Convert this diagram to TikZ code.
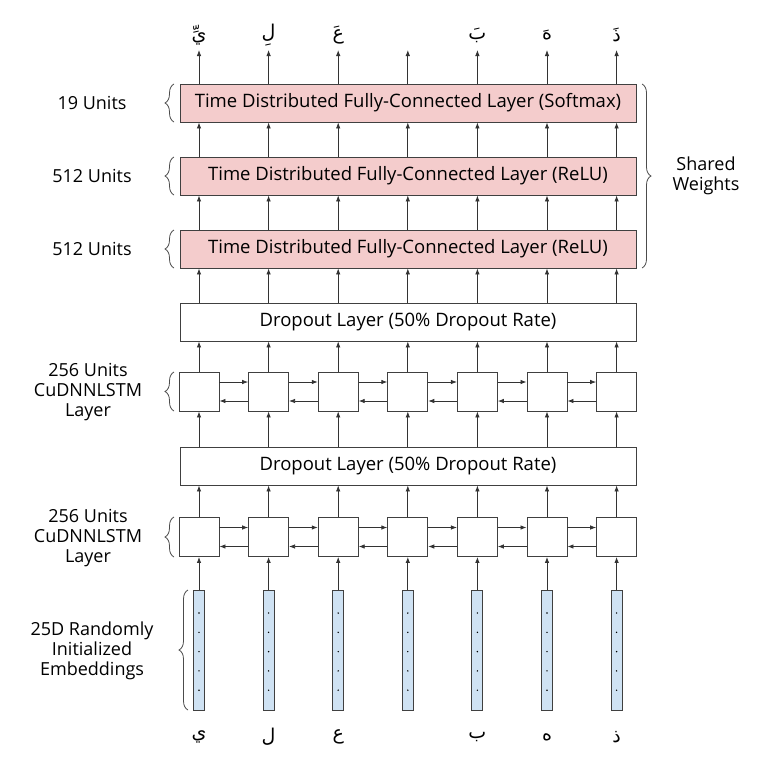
\documentclass[tikz,border=0pt]{standalone}
\usepackage{fontspec}
\setmainfont{Open Sans}
\newfontfamily\arab[Script=Arabic]{DejaVu Sans}
\usetikzlibrary{decorations.pathreplacing,arrows.meta}
\definecolor{pinkf}{HTML}{F4CCCC}
\definecolor{bluef}{HTML}{CFE2F3}
\begin{document}
\begin{tikzpicture}[x=1pt,y=-1pt,
 layer/.style={draw=black!75,line width=0.9pt,minimum width=456pt,minimum height=38pt,inner sep=0pt,font=\fontsize{18.5}{21}\selectfont},
 fc/.style={layer,fill=pinkf},
 cell/.style={draw=black!75,line width=0.9pt,minimum width=40pt,minimum height=39pt,inner sep=0pt,fill=white},
 emb/.style={draw=black!75,line width=0.9pt,fill=bluef,minimum width=11pt,minimum height=120pt,inner sep=0pt},
 arr/.style={-{Latex[length=6pt,width=4.5pt]},line width=0.8pt,black!80},
 br/.style={decorate,decoration={brace,amplitude=9pt},line width=0.8pt,black!70},
 lab/.style={font=\fontsize{18}{20}\selectfont,align=center},
 ar/.style={font=\arab\fontsize{19}{21}\selectfont}]
\useasboundingbox (0,0) rectangle (758,763);
\node[fc] (s) at (408,103) {Time Distributed Fully-Connected Layer (Softmax)};
\node[fc] (r1) at (408,176) {Time Distributed Fully-Connected Layer (ReLU)};
\node[fc] (r2) at (408,249) {Time Distributed Fully-Connected Layer (ReLU)};
\node[layer] (d1) at (408,322) {Dropout Layer (50\% Dropout Rate)};
\node[layer] (d2) at (408,466) {Dropout Layer (50\% Dropout Rate)};
\foreach \i in {1,...,7}{
  \pgfmathsetmacro{\x}{199+69.6*(\i-1)}
  \node[cell] (a\i) at (\x,391.5) {};
  \node[cell] (b\i) at (\x,537) {};
  \node[emb] (e\i) at (\x,650) {};
  \foreach \k in {0,...,4} \fill (\x,613+19.3*\k) circle (0.8pt);
  \coordinate (o\i) at (\x,50);
  \draw[arr] (e\i) -- (b\i);
  \draw[arr] (b\i) -- (b\i|-d2.south);
  \draw[arr] (a\i|-d2.north) -- (a\i);
  \draw[arr] (a\i) -- (a\i|-d1.south);
  \draw[arr] (a\i|-d1.north) -- (a\i|-r2.south);
  \draw[arr] (a\i|-r2.north) -- (a\i|-r1.south);
  \draw[arr] (a\i|-r1.north) -- (a\i|-s.south);
  \draw[arr] (a\i|-s.north) -- (o\i);
}
\foreach \i/\t/\b in {1/يِّ/ي,2/لِ/ل,3/عَ/ع,5/بَ/ب,6/هَ/ه,7/ذَ/ذ}{
  \node[ar] (t\i) at (o\i|-0,35) {\t};
  \node[ar] (w\i) at (o\i|-0,737) {\b};
}
\foreach \i [evaluate=\i as \j using int(\i+1)] in {1,...,6}{
  \draw[arr] ([yshift=9.5pt]a\i.east) -- ([yshift=9.5pt]a\j.west);
  \draw[arr] ([yshift=-9.5pt]a\j.west) -- ([yshift=-9.5pt]a\i.east);
  \draw[arr] ([yshift=9.5pt]b\i.east) -- ([yshift=9.5pt]b\j.west);
  \draw[arr] ([yshift=-9.5pt]b\j.west) -- ([yshift=-9.5pt]b\i.east);
}
\draw[br] (174,122) -- (174,84);
\draw[br] (174,195) -- (174,157);
\draw[br] (174,268) -- (174,230);
\draw[br] (174,411) -- (174,372);
\draw[br] (174,557) -- (174,517);
\draw[br] (188,710) -- (188,590);
\draw[br] (642,84) -- (642,268);
\node[lab] (l1) at (92,103) {19 Units};
\node[lab] (l2) at (92,176) {512 Units};
\node[lab] (l3) at (92,249) {512 Units};
\node[lab] (l4) at (88,392) {256 Units\\CuDNNLSTM\\Layer};
\node[lab] (l5) at (88,538) {256 Units\\CuDNNLSTM\\Layer};
\node[lab] (l6) at (92,651) {25D Randomly\\Initialized\\Embeddings};
\node[lab] (l7) at (706,176) {Shared\\Weights};
\end{tikzpicture}
\end{document}
